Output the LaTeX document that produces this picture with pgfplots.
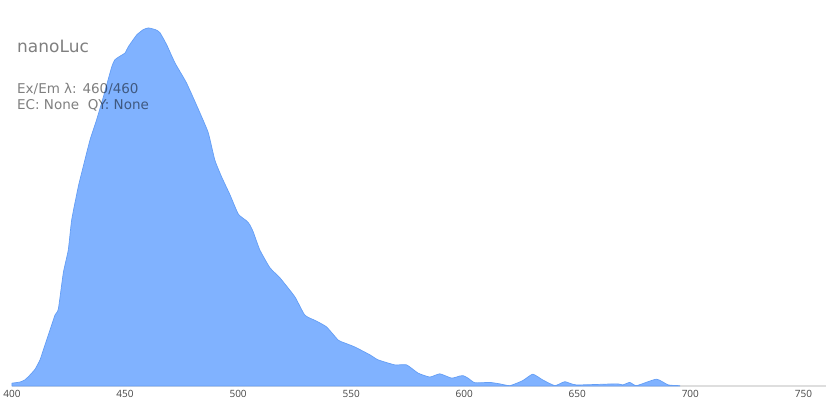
\documentclass[border=0pt]{standalone}
\usepackage{pgfplots}
\pgfplotsset{compat=1.18}
\usepackage{fontspec}
\setmainfont{DejaVu Sans}
\newfontfamily\tickfont{Open Sans}
\definecolor{areafill}{RGB}{128,178,255}
\definecolor{areaedge}{RGB}{100,158,245}
\definecolor{axisgray}{RGB}{222,222,222}
\definecolor{ticktext}{RGB}{68,68,68}
\begin{document}
\begin{tikzpicture}[x=1pt,y=1pt]
\useasboundingbox (0,0) rectangle (840,420);
\begin{axis}[
  at={(12pt,34pt)}, anchor=south west,
  scale only axis, width=814pt, height=386pt,
  xmin=400, xmax=760, ymin=0, ymax=1.078,
  axis x line=bottom, axis y line=none,
  axis line style={axisgray, line width=1.3pt, -},
  xtick={400,450,...,750},
  major tick length=0pt,
  xticklabel style={font=\tickfont\fontsize{10}{12}\selectfont, text=ticktext, yshift=-1pt},
  /pgf/number format/assume math mode=true,
  clip=false,
]
\addplot[fill=areafill, draw=areaedge, line width=0.7pt, smooth, tension=0.3] table {
x y
400 0.008
403.5 0.011
405.7 0.017
408.0 0.031
410.2 0.047
412.4 0.073
414.6 0.115
416.8 0.156
419.0 0.198
420.5 0.215
422.7 0.316
424.9 0.380
426.4 0.464
429.3 0.556
430.8 0.595
434.5 0.687
437.4 0.743
440.4 0.807
444.1 0.891
445.5 0.911
448.0 0.922
450.0 0.930
451.4 0.947
455.1 0.980
458.0 0.995
460.3 1.000
463.5 0.995
465.4 0.987
468.4 0.953
472.1 0.902
477.2 0.846
483.1 0.763
486.8 0.707
489.7 0.631
492.7 0.584
496.4 0.534
500.1 0.480
503.8 0.461
505.2 0.450
506.7 0.430
509.6 0.380
514.1 0.330
518.5 0.302
525.1 0.249
529.5 0.198
534.4 0.182
539.1 0.165
544.3 0.128
547.2 0.120
551.6 0.109
558.3 0.087
561.9 0.073
569.3 0.059
574.5 0.059
579.6 0.036
584.8 0.025
589.2 0.034
594.4 0.022
598.1 0.028
599.5 0.029
601.7 0.022
604.7 0.009
611.3 0.010
615.7 0.006
620.2 0.001
625.9 0.015
630.3 0.033
634.7 0.017
640.1 0.001
644.5 0.012
649.6 0.003
667.3 0.006
670.1 0.003
673.2 0.010
676.2 0.001
685.0 0.019
690.2 0.003
695.3 0.001
} \closedcycle;
\end{axis}
\node[anchor=base west, inner sep=0pt, text=black, text opacity=0.5, font=\fontsize{17}{20}\selectfont] at (17,367) {nanoLuc};
\node[anchor=base west, inner sep=0pt, text=black, text opacity=0.5, font=\fontsize{13.5}{16}\selectfont] at (17,326) {Ex/Em λ: 460/460};
\node[anchor=base west, inner sep=0pt, text=black, text opacity=0.5, font=\fontsize{13.5}{16}\selectfont] at (17,310) {EC: None\ \ QY: None};
\end{tikzpicture}
\end{document}
